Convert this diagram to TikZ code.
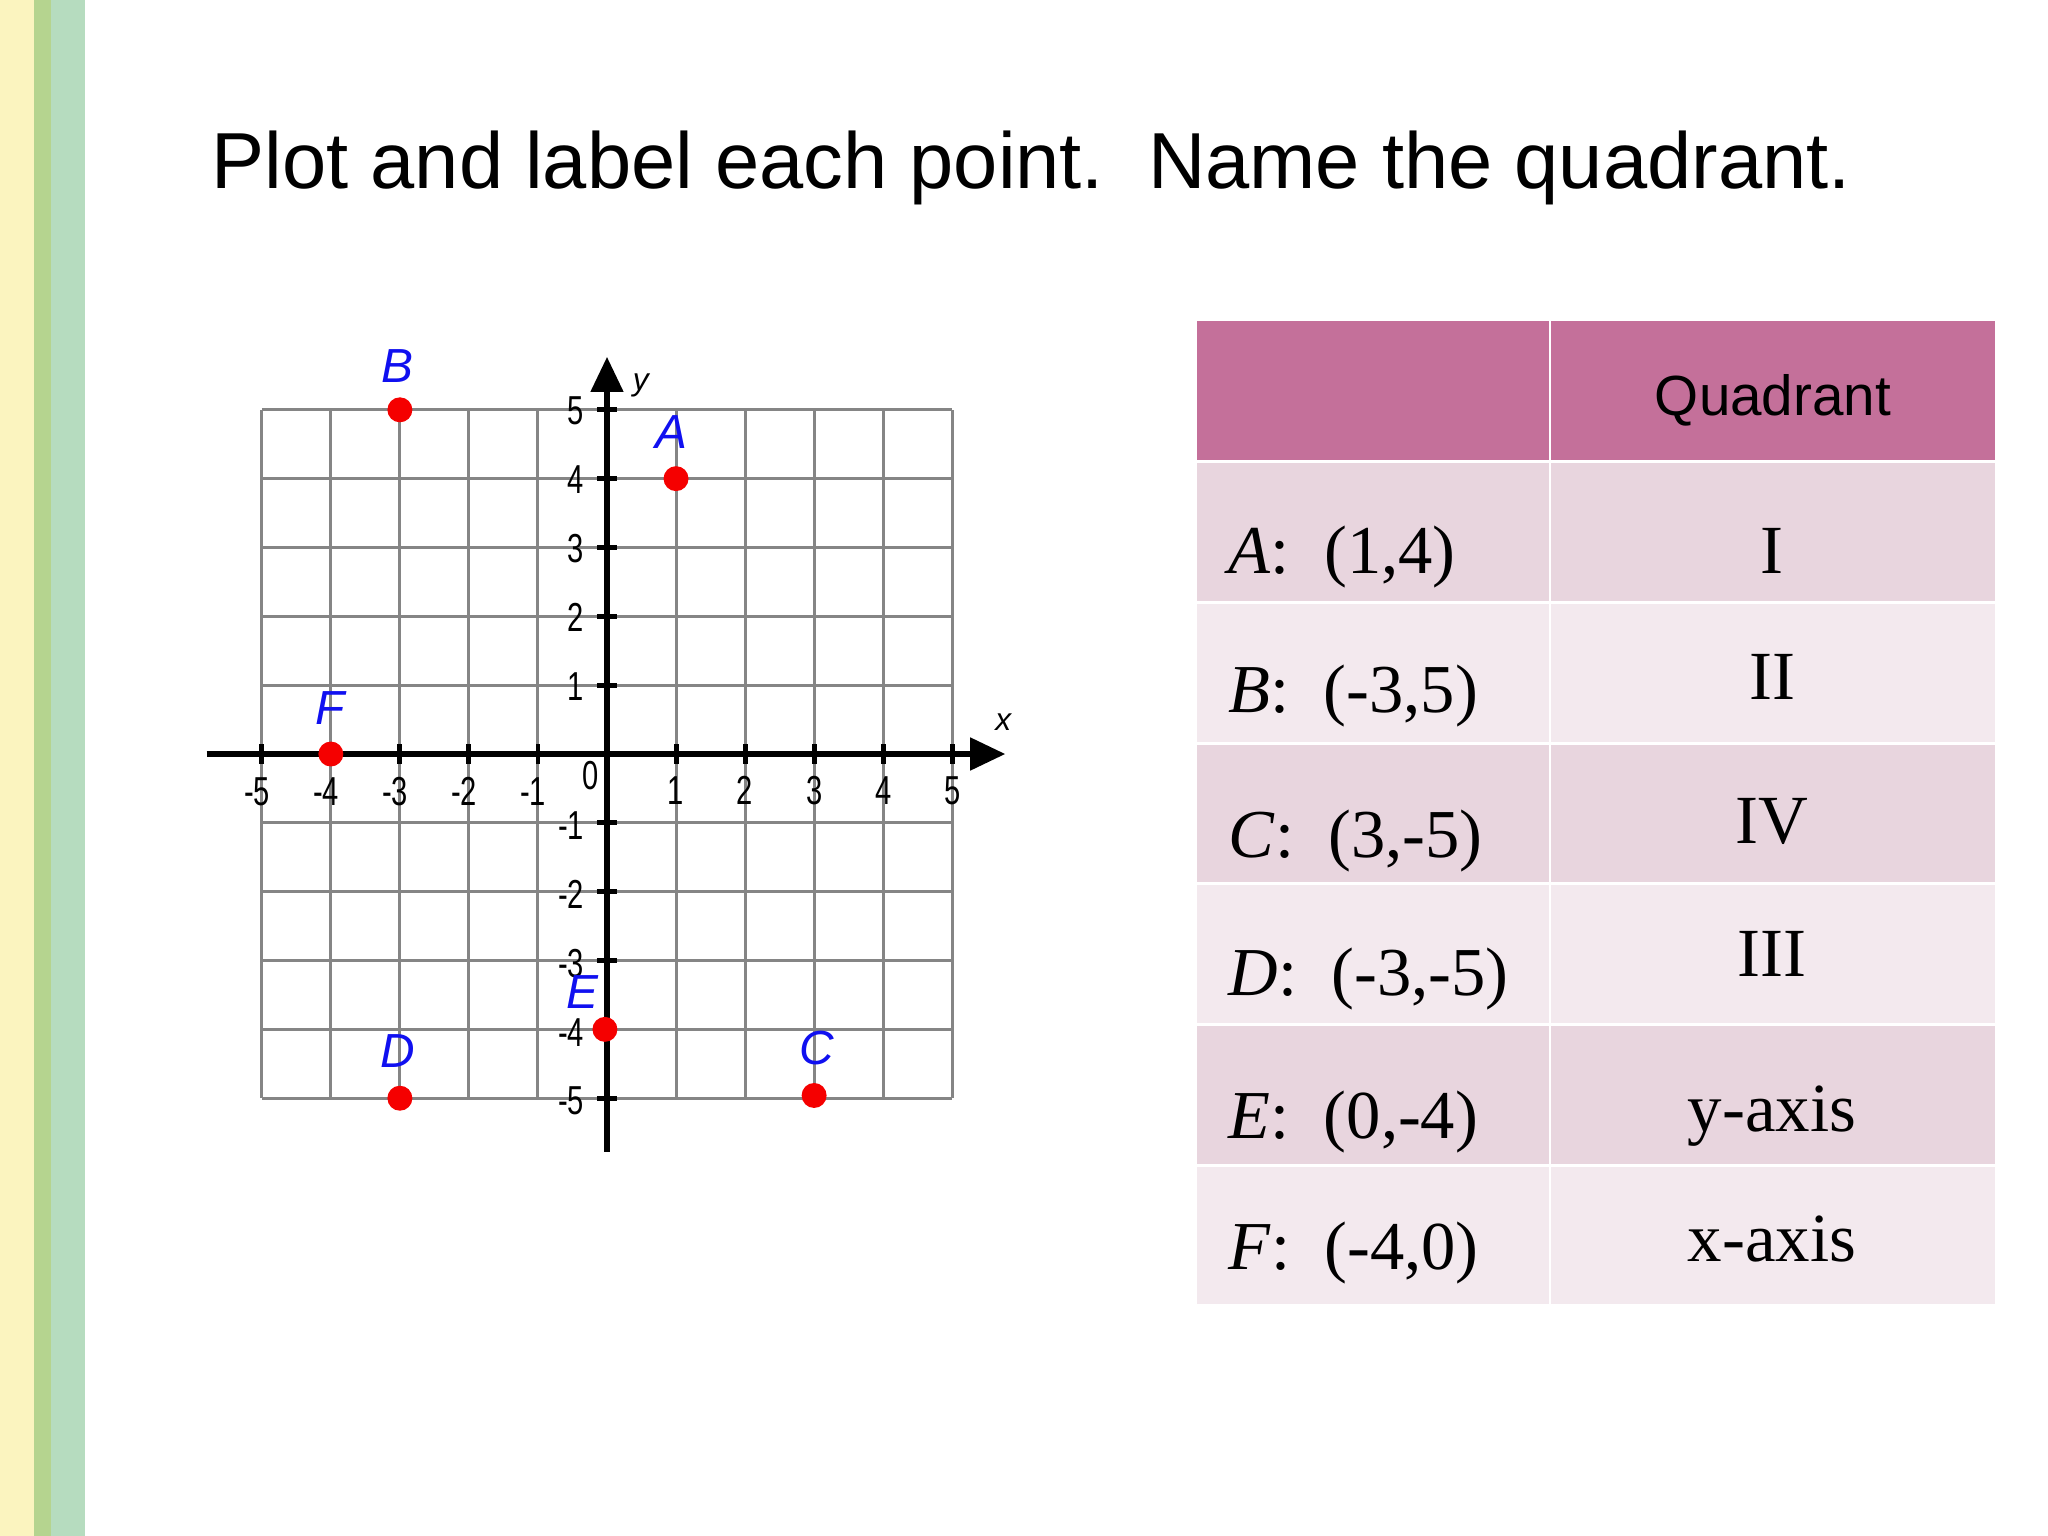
\documentclass[tikz,border=0pt]{standalone}
\usepackage{fontspec}
\setmainfont{Liberation Serif}
\setsansfont{Liberation Sans}
\usetikzlibrary{arrows.meta}
\definecolor{stripeY}{HTML}{FBF4BF}
\definecolor{stripeG}{HTML}{B5D48F}
\definecolor{stripeT}{HTML}{B6DCBF}
\definecolor{hdr}{HTML}{C4709A}
\definecolor{rowA}{HTML}{E8D5DE}
\definecolor{rowB}{HTML}{F3E9EE}
\definecolor{lblblue}{HTML}{1010F0}
\definecolor{ptred}{HTML}{F50000}
\definecolor{gridgray}{HTML}{858585}
\begin{document}
\begin{tikzpicture}[x=0.01cm,y=-0.01cm,
  titletext/.style={anchor=base west, inner sep=0pt, font=\sffamily\fontsize{22.6}{26}\selectfont},
  hdrtext/.style={anchor=base, inner sep=0pt, font=\sffamily\fontsize{16.1}{19}\selectfont},
  cellL/.style={anchor=base west, inner sep=0pt, font=\fontsize{19.5}{22}\selectfont},
  cellR/.style={anchor=base, inner sep=0pt, font=\fontsize{19.6}{22}\selectfont},
  gridln/.style={draw=gridgray, line width=0.85pt},
  axisln/.style={draw=black, line width=1.7pt},
  tickln/.style={draw=black, line width=1.4pt},
  tlab/.style={inner sep=0pt, font=\sffamily\fontsize{11.5}{12}\selectfont, xscale=0.72},
  dot/.style={circle, fill=ptred, inner sep=0pt, minimum size=7.1pt},
  plab/.style={inner sep=0pt, text=lblblue, font=\sffamily\itshape\fontsize{13.6}{15}\selectfont},
  alab/.style={inner sep=0pt, font=\sffamily\itshape\fontsize{9}{10}\selectfont}
]
\useasboundingbox (0,0) rectangle (2048,1536);
\fill[white] (0,0) rectangle (2048,1536);
% side stripes
\fill[stripeY] (0,0) rectangle (34,1536);
\fill[stripeG] (34,0) rectangle (51,1536);
\fill[stripeT] (51,0) rectangle (85,1536);

% title
\node[titletext] (title) at (211,188) {Plot and label each point.~~Name the quadrant.};

% table
\fill[hdr] (1197,321) rectangle (1549,459.5);
\fill[hdr] (1551,321) rectangle (1995,459.5);
\foreach \k/\col in {1/rowA,2/rowB,3/rowA,4/rowB,5/rowA,6/rowB}{
  \pgfmathsetmacro{\ytop}{321+140.7*\k+1.6}
  \pgfmathsetmacro{\ybot}{321+140.7*(\k+1)-1.6}
  \fill[\col] (1197,\ytop) rectangle (1549,\ybot);
  \fill[\col] (1551,\ytop) rectangle (1995,\ybot);
}
\node[hdrtext] (qh) at (1773,415) {Quadrant};
\node[cellL] (tA) at (1228,573) {\textit{A}:\hspace{0.5em}(1,4)};
\node[cellL] (tB) at (1228,712) {\textit{B}:\hspace{0.5em}(-3,5)};
\node[cellL] (tC) at (1228,857) {\textit{C}:\hspace{0.5em}(3,-5)};
\node[cellL] (tD) at (1228,995) {\textit{D}:\hspace{0.5em}(-3,-5)};
\node[cellL] (tE) at (1228,1138) {\textit{E}:\hspace{0.5em}(0,-4)};
\node[cellL] (tF) at (1228,1269) {\textit{F}:\hspace{0.5em}(-4,0)};
\node[cellR] (qA) at (1772,573) {I};
\node[cellR] (qB) at (1772,699) {II};
\node[cellR] (qC) at (1772,843) {IV};
\node[cellR] (qD) at (1772,976) {III};
\node[cellR] (qE) at (1772,1131) {y-axis};
\node[cellR] (qF) at (1772,1261) {x-axis};

% coordinate plane
\begin{scope}[shift={(607,754)}, x=0.69cm, y=0.688cm]
  \foreach \i in {-5,...,5}{
    \draw[gridln] (\i,-5) -- (\i,5);
    \draw[gridln] (-5,\i) -- (5,\i);
  }
  \coordinate (xs) at (-5.8,0);
  \coordinate (xe) at (5.77,0);
  \coordinate (ys) at (0,-5.78);
  \coordinate (ye) at (0,5.77);
  \draw[axisln, -{Triangle[length=10pt,width=9pt]}] (xs) -- (xe);
  \draw[axisln, -{Triangle[length=10pt,width=9pt]}] (ys) -- (ye);
  \foreach \i in {-5,-4,-3,-2,-1,1,2,3,4,5}{
    \draw[tickln] (\i,-0.145) -- (\i,0.145);
    \draw[tickln] (-0.145,\i) -- (0.145,\i);
  }
  % tick labels
  \foreach \i/\n in {-5/5,-4/4,-3/3,-2/2,-1/1}{
    \node[tlab] (xm\n) at (\i,-0.55) {\llap{-}\n};
    \node[tlab] (ym\n) at (-0.45,\i-0.04) {\llap{-}\n};
  }
  \foreach \i in {1,2,3,4,5}{
    \node[tlab] (xp\i) at (\i,-0.53) {\i};
    \node[tlab] (yp\i) at (-0.45,\i-0.02) {\i};
  }
  \node[tlab] (zero) at (-0.24,-0.32) {0};
  \node[alab] (xlab) at (5.74,0.47) {x};
  \node[alab] (ylab) at (0.49,5.36) {y};
  % points
  \node[dot] (A) at (1,4) {};
  \node[dot] (B) at (-3,5) {};
  \node[dot] (C) at (3,-4.96) {};
  \node[dot] (D) at (-3,-5) {};
  \node[dot] (E) at (-0.03,-4) {};
  \node[dot] (F) at (-4,0) {};
  \node[plab] (lA) at (0.94,4.67) {A};
  \node[plab] (lB) at (-3.04,5.64) {B};
  \node[plab] (lC) at (3.04,-4.27) {C};
  \node[plab] (lD) at (-3.03,-4.32) {D};
  \node[plab] (lE) at (-0.35,-3.46) {E};
  \node[plab] (lF) at (-4.01,0.67) {F};
\end{scope}
\end{tikzpicture}
\end{document}
